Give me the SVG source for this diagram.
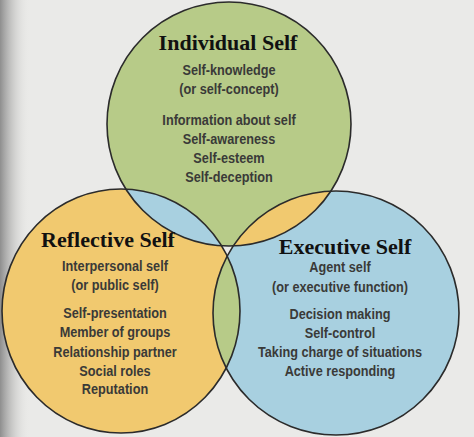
<svg xmlns="http://www.w3.org/2000/svg" width="474" height="437" viewBox="0 0 474 437">
  <style>
    .head { font-family: "Liberation Serif", "Times New Roman", serif; font-weight: bold; font-size: 22px; fill: #111; text-anchor: middle; }
    .item { font-family: "Liberation Sans", Arial, sans-serif; font-weight: bold; font-size: 15.5px; fill: #3a3a38; text-anchor: middle; }
    .outline { fill: none; stroke: #2b2b2b; stroke-width: 1.6; }
  </style>
  <defs>
    <linearGradient id="gutter" x1="0" y1="0" x2="1" y2="0">
      <stop offset="0" stop-color="#8e8e8e"/>
      <stop offset="1" stop-color="#e9e9e7" stop-opacity="0"/>
    </linearGradient>
    <clipPath id="clipTop"><circle cx="229" cy="124" r="122"/></clipPath>
    <clipPath id="clipLeft"><ellipse cx="121" cy="311" rx="119" ry="122"/></clipPath>
    <clipPath id="clipRight"><ellipse cx="336" cy="313" rx="123" ry="122"/></clipPath>
  </defs>

  <rect x="0" y="0" width="474" height="437" fill="#eaeae8"/>
  <rect x="0" y="0" width="30" height="437" fill="url(#gutter)"/>

  <!-- base fills -->
  <circle cx="229" cy="124" r="122" fill="#b7cb88"/>
  <ellipse cx="121" cy="311" rx="119" ry="122" fill="#f1c96f"/>
  <ellipse cx="336" cy="313" rx="123" ry="122" fill="#a8d0e0"/>

  <!-- pairwise overlaps -->
  <g clip-path="url(#clipTop)">
    <ellipse cx="121" cy="311" rx="119" ry="122" fill="#a8d0e0"/>
    <ellipse cx="336" cy="313" rx="123" ry="122" fill="#f1c96f"/>
  </g>
  <g clip-path="url(#clipLeft)">
    <ellipse cx="336" cy="313" rx="123" ry="122" fill="#b7cb88"/>
  </g>
  <!-- triple overlap -->
  <g clip-path="url(#clipTop)">
    <g clip-path="url(#clipLeft)">
      <ellipse cx="336" cy="313" rx="123" ry="122" fill="#f2f2f0"/>
    </g>
  </g>

  <!-- outlines -->
  <g id="connectors">
    <circle class="outline" cx="229" cy="124" r="122"/>
    <ellipse class="outline" cx="121" cy="311" rx="119" ry="122"/>
    <ellipse class="outline" cx="336" cy="313" rx="123" ry="122"/>
  </g>

  <g id="individual-self">
    <text class="head" x="228" y="50">Individual Self</text>
    <text class="item" transform="translate(229 75) scale(0.82 1)">Self-knowledge</text>
    <text class="item" transform="translate(229 94) scale(0.82 1)">(or self-concept)</text>
    <text class="item" transform="translate(229 125) scale(0.82 1)">Information about self</text>
    <text class="item" transform="translate(229 144) scale(0.82 1)">Self-awareness</text>
    <text class="item" transform="translate(229 163) scale(0.82 1)">Self-esteem</text>
    <text class="item" transform="translate(229 182) scale(0.82 1)">Self-deception</text>
  </g>

  <g id="reflective-self">
    <text class="head" x="108" y="247">Reflective Self</text>
    <text class="item" transform="translate(115 271) scale(0.82 1)">Interpersonal self</text>
    <text class="item" transform="translate(115 290) scale(0.82 1)">(or public self)</text>
    <text class="item" transform="translate(115 318) scale(0.82 1)">Self-presentation</text>
    <text class="item" transform="translate(115 337) scale(0.82 1)">Member of groups</text>
    <text class="item" transform="translate(115 357) scale(0.82 1)">Relationship partner</text>
    <text class="item" transform="translate(115 376) scale(0.82 1)">Social roles</text>
    <text class="item" transform="translate(115 394) scale(0.82 1)">Reputation</text>
  </g>

  <g id="executive-self">
    <text class="head" x="345" y="254">Executive Self</text>
    <text class="item" transform="translate(340 272) scale(0.82 1)">Agent self</text>
    <text class="item" transform="translate(340 292) scale(0.82 1)">(or executive function)</text>
    <text class="item" transform="translate(340 319) scale(0.82 1)">Decision making</text>
    <text class="item" transform="translate(340 338) scale(0.82 1)">Self-control</text>
    <text class="item" transform="translate(340 357) scale(0.82 1)">Taking charge of situations</text>
    <text class="item" transform="translate(340 376) scale(0.82 1)">Active responding</text>
  </g>
</svg>
